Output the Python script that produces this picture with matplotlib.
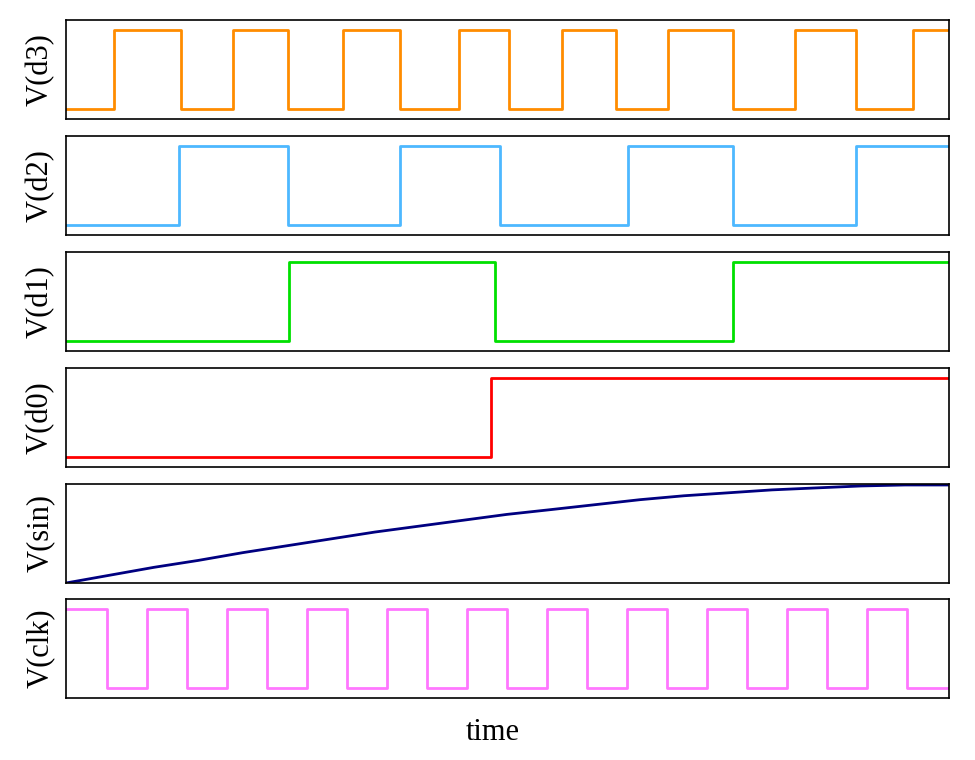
import matplotlib
matplotlib.use("Agg")
import matplotlib.pyplot as plt

plt.rcParams['font.family'] = ['Liberation Serif', 'DejaVu Serif']

# transition times (arbitrary time units) and levels
d3_t = [0, 48, 115, 167, 222, 277, 334, 393, 443, 496, 550, 602, 667, 729, 790, 847, 883]
d3_v = [0, 1, 0, 1, 0, 1, 0, 1, 0, 1, 0, 1, 0, 1, 0, 1, 1]
d2_t = [0, 113, 222, 334, 434, 562, 667, 790, 883]
d2_v = [0, 1, 0, 1, 0, 1, 0, 1, 1]
d1_t = [0, 223, 429, 667, 883]
d1_v = [0, 1, 0, 1, 1]
d0_t = [0, 425, 883]
d0_v = [0, 1, 1]
sin_t = [0, 44, 88, 132, 177, 221, 265, 309, 353, 397, 441, 486, 530, 574, 618, 662, 706, 750, 795, 839, 883]
sin_v = [0, 0.08, 0.16, 0.23, 0.31, 0.38, 0.45, 0.52, 0.58, 0.64, 0.70, 0.75, 0.80, 0.85, 0.89, 0.92, 0.95, 0.97, 0.99, 1.0, 1.0]
clk_t = [0, 41, 81, 121, 161, 201, 241, 281, 321, 361, 401, 441, 481, 521, 561, 601, 641, 681, 721, 761, 801, 841, 883]
clk_v = [1, 0, 1, 0, 1, 0, 1, 0, 1, 0, 1, 0, 1, 0, 1, 0, 1, 0, 1, 0, 1, 0, 0]

series = [
    ("V(d3)", d3_t, d3_v, "#FF8C00", True),
    ("V(d2)", d2_t, d2_v, "#4DB8FF", True),
    ("V(d1)", d1_t, d1_v, "#00E000", True),
    ("V(d0)", d0_t, d0_v, "#FF0000", True),
    ("V(sin)", sin_t, sin_v, "#000080", False),
    ("V(clk)", clk_t, clk_v, "#FF77FF", True),
]

W, H = 975, 760
fig = plt.figure(figsize=(9.75, 7.6), dpi=100)
tops = [20, 136, 252, 368, 484, 599]
h = 99
for (name, t, v, c, step), top in zip(series, tops):
    ax = fig.add_axes([66 / W, 1 - (top + h) / H, 883 / W, h / H])
    if step:
        ax.plot(t, v, color=c, lw=2, drawstyle='steps-post')
        ax.set_ylim(-0.12, 1.12)
    else:
        ax.plot(t, v, color=c, lw=2)
        ax.set_ylim(0, 1.01)
    ax.set_xlim(0, 883)
    ax.set_xticks([])
    ax.set_yticks([])
    ax.set_ylabel(name, fontsize=22, labelpad=8)
    for s in ax.spines.values():
        s.set_linewidth(1.2)
fig.text(493 / W, 1 - 733 / H, "time", fontsize=22, ha='center', va='center')
fig.savefig("out.png", dpi=100)
